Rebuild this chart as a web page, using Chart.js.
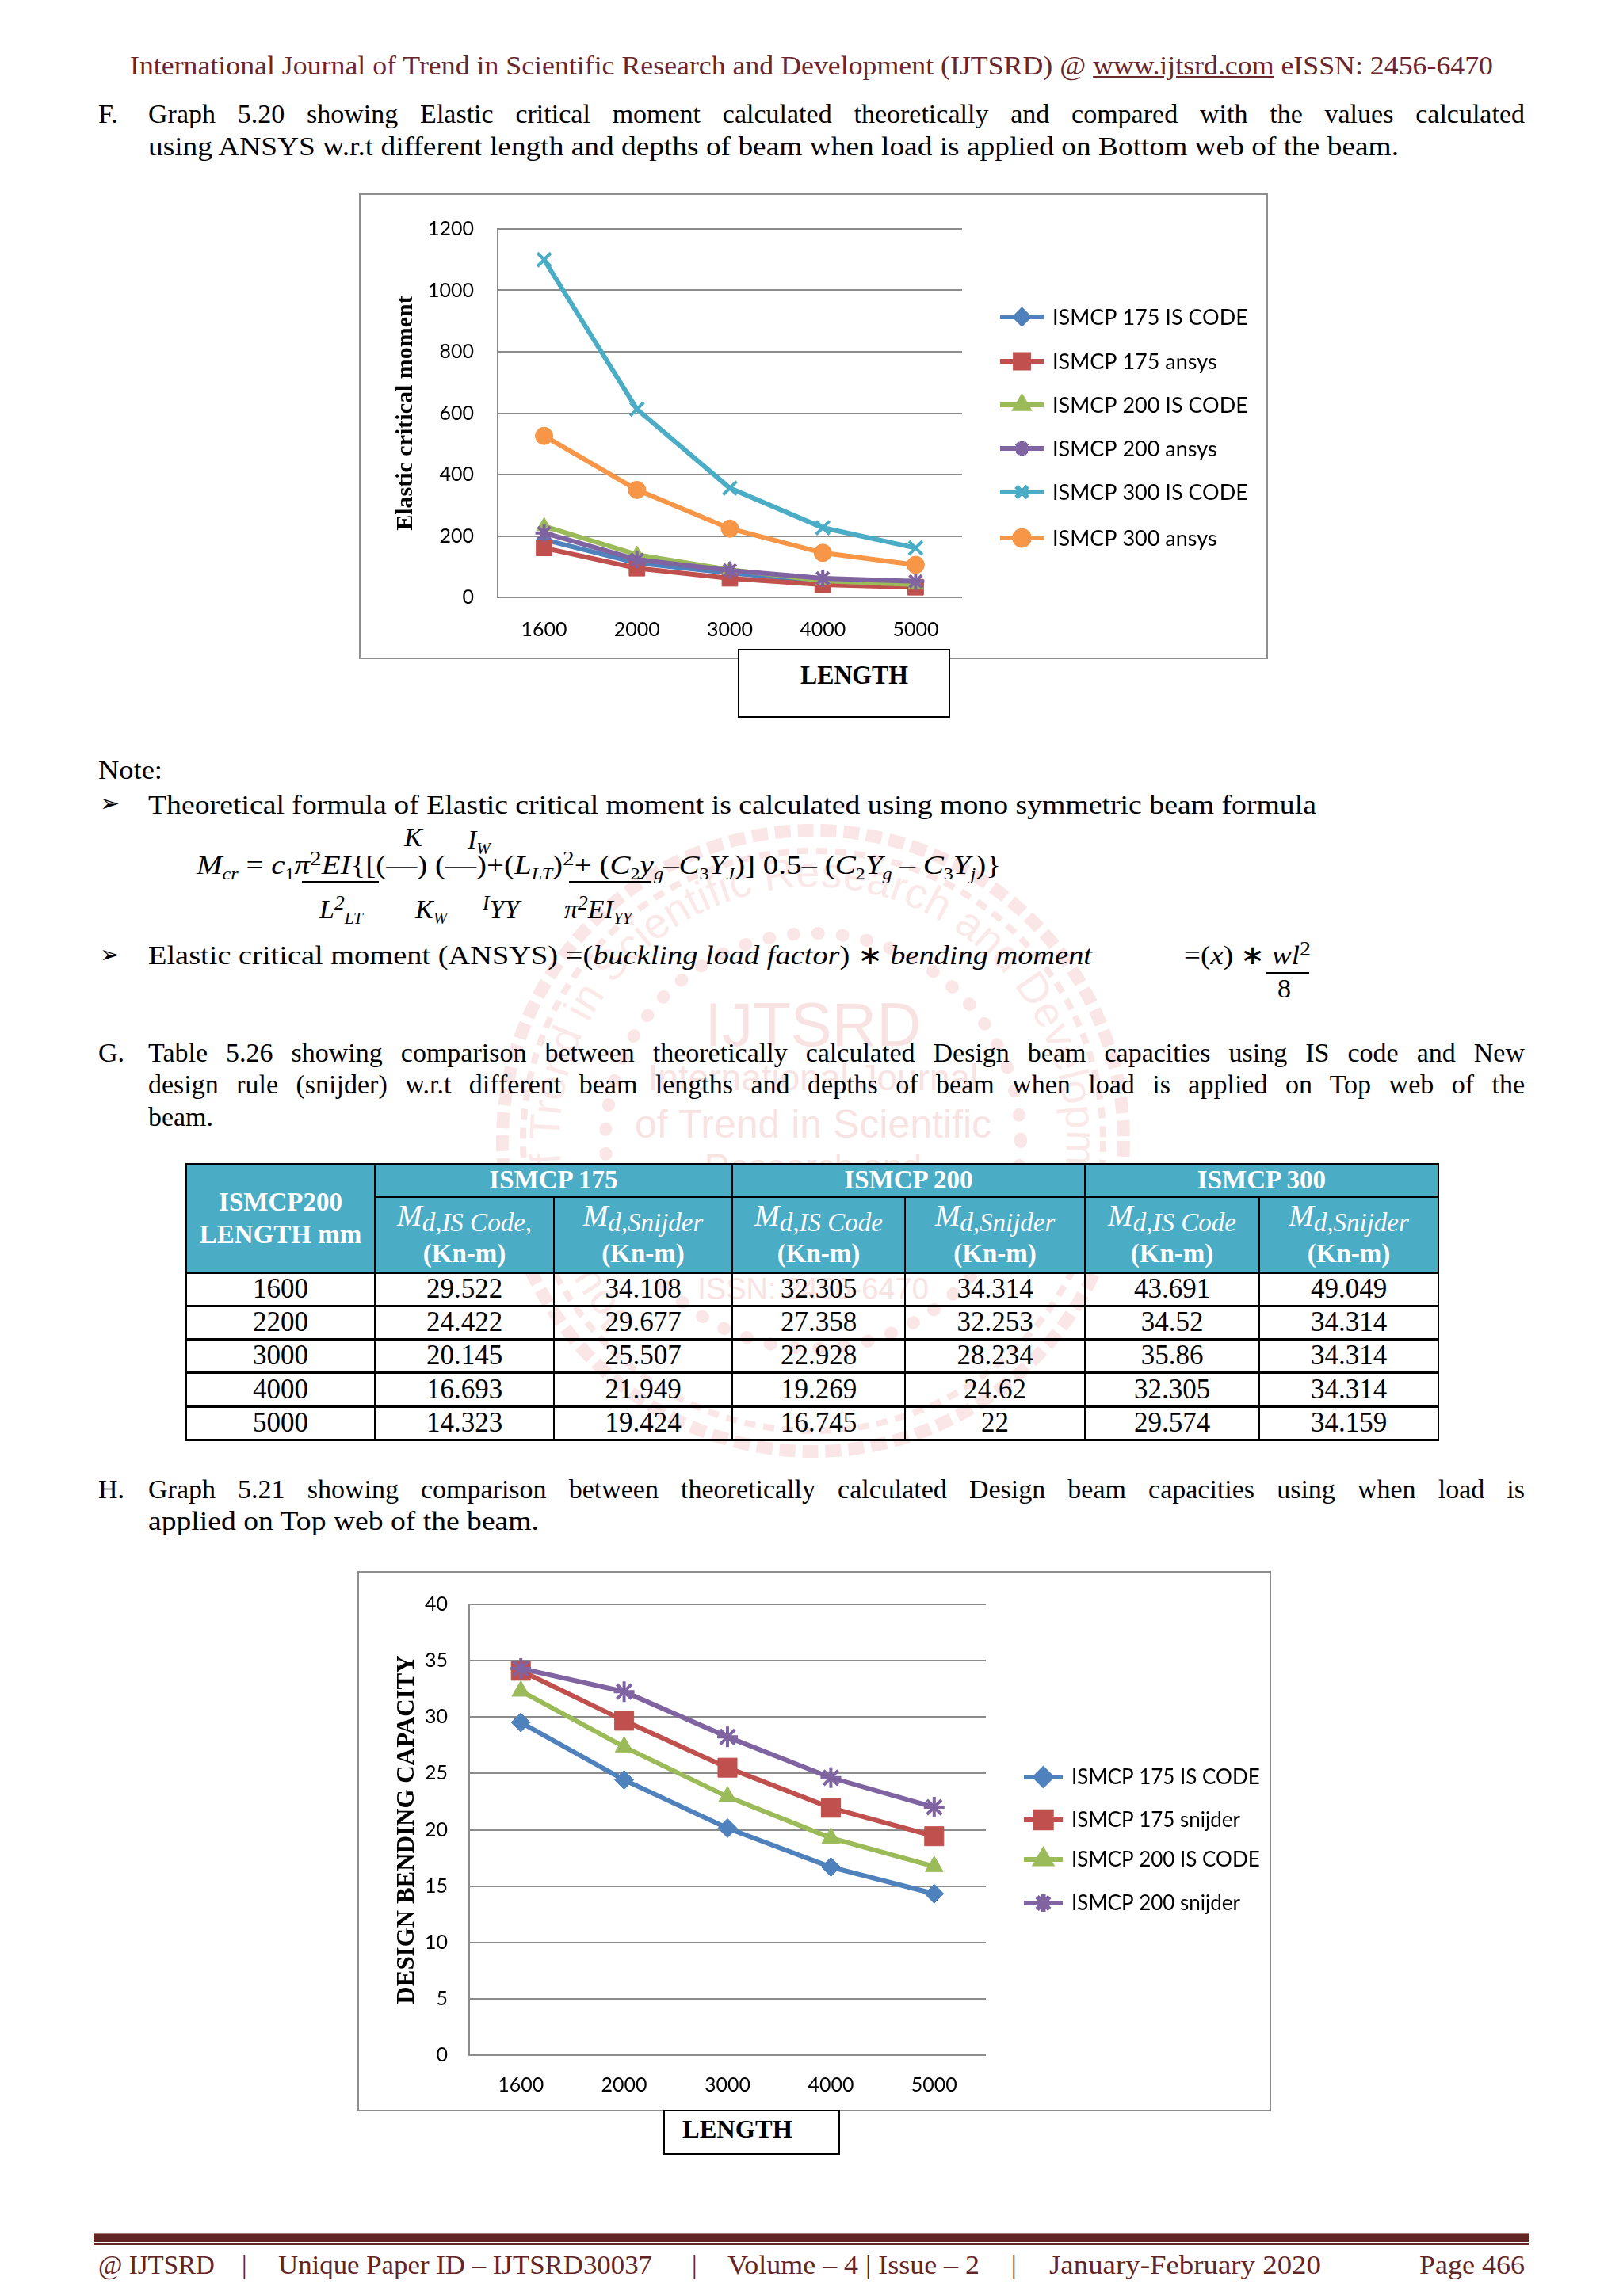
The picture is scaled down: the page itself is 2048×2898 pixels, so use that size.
<!DOCTYPE html>
<html><head><meta charset="utf-8">
<script src="https://cdn.jsdelivr.net/npm/chart.js@4.4.0/dist/chart.umd.min.js"></script>
<style>
html,body{margin:0;padding:0;background:#fff;}
#page{position:relative;width:2048px;height:2898px;overflow:hidden;font-family:"Liberation Serif",serif;color:#000;}
.t{position:absolute;white-space:nowrap;font-size:34px;line-height:40px;transform-origin:0 50%;z-index:2;}
.t sub{font-size:0.62em;vertical-align:-0.35em;line-height:0;}
.t sup{font-size:0.75em;vertical-align:0.45em;line-height:0;}
.hl{position:absolute;background:#000;z-index:2;}
.cell{position:absolute;display:flex;align-items:center;justify-content:center;text-align:center;z-index:3;white-space:nowrap;}
.bx{position:absolute;box-sizing:border-box;z-index:4;}
canvas{position:absolute;z-index:3;}
</style></head>
<body><div id="page">

<svg id="wm" width="2048" height="2898" style="position:absolute;left:0;top:0;z-index:0">
  <g fill="none" stroke="#fae6e6">
    <circle cx="1026" cy="1440" r="392" stroke-width="16" stroke-dasharray="20 9"/>
    <circle cx="1026" cy="1440" r="366" stroke-width="8" stroke-dasharray="14 10"/>
    <circle cx="1026" cy="1440" r="262" stroke-width="16" stroke-dasharray="1 30" stroke-linecap="round"/>
  </g>
  <path id="ring" fill="none" d="M 800 1666 A 320 320 0 1 1 1252 1666"/>
  <text font-family="Liberation Sans" font-size="54" fill="#fbe9e9"><textPath href="#ring">Journal of Trend in Scientific Research and Development</textPath></text>
  <g font-family="Liberation Sans" fill="#f9e2e2" text-anchor="middle">
    <text x="1026" y="1320" font-size="78">IJTSRD</text>
    <text x="1026" y="1376" font-size="46">International Journal</text>
    <text x="1026" y="1436" font-size="50">of Trend in Scientific</text>
    <text x="1026" y="1488" font-size="44">Research and</text>
    <text x="1026" y="1545" font-size="44">Development</text>
    <text x="1026" y="1640" font-size="38">ISSN: 2456-6470</text>
  </g>
</svg>

<!-- header -->
<div class="t" style="left:164px;top:63px;color:#6a262c;font-size:33px" data-w="1720">International Journal of Trend in Scientific Research and Development (IJTSRD) @ <span style="text-decoration:underline">www.ijtsrd.com</span> eISSN: 2456-6470</div>

<div class="t" style="left:124px;top:124px">F.</div>
<div class="t" style="left:187px;top:124px" data-w="1737" data-j="1">Graph 5.20 showing Elastic critical moment calculated theoretically and compared with the values calculated</div>
<div class="t" style="left:187px;top:165px" data-w="1578">using ANSYS w.r.t different length and depths of beam when load is applied on Bottom web of the beam.</div>

<!-- chart 1 -->
<canvas id="c1" width="1147" height="588" style="left:453px;top:244px"></canvas>
<div class="bx" style="left:453px;top:244px;width:1147px;height:588px;border:2px solid #8e8e8e"></div>
<div class="bx" style="left:931px;top:819px;width:268px;height:87px;border:2px solid #000;background:#fff"></div>
<div class="t" style="left:1010px;top:832px;font-weight:bold;font-size:33px;z-index:5" data-w="136">LENGTH</div>

<!-- note -->
<div class="t" style="left:124px;top:952px" data-w="81">Note:</div>
<div class="t" style="left:126px;top:994px;font-family:'DejaVu Sans';font-size:30px">&#10146;</div>
<div class="t" style="left:187px;top:996px" data-w="1474">Theoretical formula of Elastic critical moment is calculated using mono symmetric beam formula</div>

<div class="t" style="left:510px;top:1037px;font-style:italic">K</div>
<div class="t" style="left:590px;top:1040px;font-style:italic">I<sub>W</sub></div>
<div class="t" style="left:248px;top:1072px" data-w="1015"><i>M<sub>cr</sub></i> = <i>c</i><sub>1</sub><i>π</i><sup>2</sup><i>EI</i>{[(—) (—)+(<i>L<sub>LT</sub></i>)<sup>2</sup>+ (<i>C</i><sub>2</sub><i>y<sub>g</sub></i>–<i>C</i><sub>3</sub><i>Y<sub>J</sub></i>)] 0.5– (<i>C</i><sub>2</sub><i>Y<sub>g</sub></i> – <i>C</i><sub>3</sub><i>Y<sub>j</sub></i>)}</div>
<div class="hl" style="left:381px;top:1112px;width:97px;height:3px"></div>
<div class="hl" style="left:718px;top:1112px;width:103px;height:3px"></div>
<div class="t" style="left:403px;top:1128px;font-style:italic">L<sup>2</sup><sub>LT</sub></div>
<div class="t" style="left:524px;top:1128px;font-style:italic">K<sub>W</sub></div>
<div class="t" style="left:609px;top:1128px;font-style:italic"><sup>I</sup>YY</div>
<div class="t" style="left:712px;top:1128px;font-style:italic">π<sup>2</sup>EI<sub>YY</sub></div>

<div class="t" style="left:126px;top:1185px;font-family:'DejaVu Sans';font-size:30px">&#10146;</div>
<div class="t" style="left:187px;top:1186px" data-w="1191">Elastic critical moment (ANSYS) =(<i>buckling load factor</i>) ∗ <i>bending moment</i></div>
<div class="t" style="left:1494px;top:1186px" data-w="160">=(<i>x</i>) ∗ <i>wl</i><sup>2</sup></div>
<div class="hl" style="left:1597px;top:1227px;width:55px;height:3px"></div>
<div class="t" style="left:1612px;top:1228px">8</div>

<div class="t" style="left:124px;top:1309px">G.</div>
<div class="t" style="left:187px;top:1309px" data-w="1737" data-j="1">Table 5.26 showing comparison between theoretically calculated Design beam capacities using IS code and New</div>
<div class="t" style="left:187px;top:1349px" data-w="1737" data-j="1">design rule (snijder) w.r.t different beam lengths and depths of beam when load is applied on Top web of the</div>
<div class="t" style="left:187px;top:1390px" data-w="82">beam.</div>

<div id="tbl"></div>

<div class="t" style="left:124px;top:1860px">H.</div>
<div class="t" style="left:187px;top:1860px" data-w="1737" data-j="1">Graph 5.21 showing comparison between theoretically calculated Design beam capacities using when load is</div>
<div class="t" style="left:187px;top:1900px" data-w="493">applied on Top web of the beam.</div>

<!-- chart 2 -->
<canvas id="c2" width="1153" height="682" style="left:451px;top:1983px"></canvas>
<div class="bx" style="left:451px;top:1983px;width:1153px;height:682px;border:2px solid #8e8e8e"></div>
<div class="bx" style="left:837px;top:2663px;width:223px;height:57px;border:2px solid #000;background:#fff"></div>
<div class="t" style="left:861px;top:2667px;font-weight:bold;font-size:32px;z-index:5" data-w="139">LENGTH</div>

<!-- footer -->
<div class="hl" style="left:118px;top:2819px;width:1812px;height:1px;background:#b07a7a"></div>
<div class="hl" style="left:118px;top:2820px;width:1812px;height:10px;background:#632523"></div>
<div class="hl" style="left:118px;top:2831px;width:1812px;height:3px;background:#632523"></div>
<div class="t" style="left:124px;top:2839px;color:#632523;font-size:33px">@ IJTSRD</div>
<div class="t" style="left:305px;top:2839px;color:#632523;font-size:33px">|</div>
<div class="t" style="left:351px;top:2839px;color:#632523;font-size:33px" data-w="472">Unique Paper ID – IJTSRD30037</div>
<div class="t" style="left:873px;top:2839px;color:#632523;font-size:33px">|</div>
<div class="t" style="left:918px;top:2839px;color:#632523;font-size:33px" data-w="318">Volume – 4 | Issue – 2</div>
<div class="t" style="left:1276px;top:2839px;color:#632523;font-size:33px">|</div>
<div class="t" style="left:1324px;top:2839px;color:#632523;font-size:33px" data-w="343">January-February 2020</div>
<div class="t" style="left:1791px;top:2839px;color:#632523;font-size:33px" data-w="133">Page 466</div>

</div>
<script>
// ---------- data ----------
const chartLengths = ['1600', '2000', '3000', '4000', '5000'];
// Graph 5.20
const g20_175_is    = [188, 112, 79, 52, 41];
const g20_175_ansys = [161, 95, 62, 41, 33];
const g20_200_is    = [232, 139, 90, 54, 41];
const g20_200_ansys = [210, 123, 88, 62, 52];
const g20_300_is    = [1100, 613, 356, 227, 161];
const g20_300_ansys = [526, 350, 224, 145, 106];
// Table 5.26
const tableLengths = [1600, 2200, 3000, 4000, 5000];
const md175_is  = [29.522, 24.422, 20.145, 16.693, 14.323];
const md175_sn  = [34.108, 29.677, 25.507, 21.949, 19.424];
const md200_is  = [32.305, 27.358, 22.928, 19.269, 16.745];
const md200_sn  = [34.314, 32.253, 28.234, 24.62, 22];
const md300_is  = [43.691, 34.52, 35.86, 32.305, 29.574];
const md300_sn  = [49.049, 34.314, 34.314, 34.314, 34.159];
const sectionNames = ['ISMCP 175', 'ISMCP 200', 'ISMCP 300'];

// ---------- table ----------
(function(){
  const T = document.getElementById('tbl');
  const xs = [235, 473, 699, 924, 1142, 1369, 1589, 1815];
  const ys = [1469, 1510, 1606, 1648, 1690, 1732, 1775, 1817];
  function div(css, html, cls){ const d=document.createElement('div'); d.className=cls||''; d.style.cssText=css; if(html!==undefined) d.innerHTML='<div>'+html+'</div>'; T.appendChild(d); return d; }
  div(`position:absolute;left:${xs[0]}px;top:${ys[0]}px;width:${xs[7]-xs[0]}px;height:${ys[2]-ys[0]}px;background:#4bacc6;z-index:2`);
  const hf = 'color:#fff;font-weight:bold;font-size:33px;line-height:41px;';
  div(`left:${xs[0]}px;top:${ys[0]}px;width:${xs[1]-xs[0]}px;height:${ys[2]-ys[0]}px;${hf}`, 'ISMCP200<br>LENGTH mm', 'cell');
  sectionNames.forEach((n,i)=>{
    div(`left:${xs[1+2*i]}px;top:${ys[0]}px;width:${xs[3+2*i]-xs[1+2*i]}px;height:${ys[1]-ys[0]}px;${hf}`, n, 'cell');
    ['IS Code','Snijder'].forEach((k,j)=>{
      const c = 1+2*i+j;
      div(`left:${xs[c]}px;top:${ys[1]}px;width:${xs[c+1]-xs[c]}px;height:${ys[2]-ys[1]}px;color:#fff;font-size:33px;line-height:46px;`,
        `<span style="font-style:italic;font-size:38px">M<span style="font-size:33px;position:relative;top:7px">d,${k}${(i===0&&j===0)?',':''}</span></span><br><b>(Kn-m)</b>`, 'cell');
    });
  });
  const cols = [tableLengths, md175_is, md175_sn, md200_is, md200_sn, md300_is, md300_sn];
  for(let r=0;r<5;r++){
    cols.forEach((col,c)=>{
      div(`left:${xs[c]}px;top:${ys[r+2]}px;width:${xs[c+1]-xs[c]}px;height:${ys[r+3]-ys[r+2]}px;font-size:35px;`, String(col[r]), 'cell');
    });
  }
  // lines
  const L = (x,y,w,h)=>div(`position:absolute;left:${x}px;top:${y}px;width:${w}px;height:${h}px;background:#000;z-index:4`);
  L(xs[0]-1, ys[0]-1, xs[7]-xs[0]+2, 3);
  L(xs[1], ys[1]-1, xs[7]-xs[1]+1, 3);
  for(let r=2;r<ys.length;r++) L(xs[0]-1, ys[r]-1, xs[7]-xs[0]+2, 3);
  xs.forEach((x,i)=>{ const top = (i===2||i===4||i===6) ? ys[1] : ys[0]; L(x-1, top, 2, ys[7]-top+1); });
})();

// ---------- fit text widths ----------
document.querySelectorAll('[data-w]').forEach(el=>{
  const w = +el.dataset.w;
  const nat = el.getBoundingClientRect().width;
  if(el.dataset.j){
    const spaces = (el.textContent.match(/ /g)||[]).length;
    el.style.wordSpacing = ((w-nat)/spaces)+'px';
  } else {
    el.style.transform = 'scaleX('+(w/nat)+')';
  }
});

// ---------- charts ----------
const xlLegend = {
  id:'xlLegend',
  afterDraw(chart, args, o){
    const ctx = chart.ctx;
    chart.data.datasets.forEach((ds,i)=>{
      const y = o.rows[i];
      ctx.save();
      ctx.strokeStyle = ds.borderColor; ctx.lineWidth = ds.borderWidth;
      ctx.beginPath(); ctx.moveTo(o.x0,y); ctx.lineTo(o.x1,y); ctx.stroke();
      ctx.fillStyle = ds.pointBackgroundColor; ctx.strokeStyle = ds.pointBorderColor;
      Chart.helpers.drawPoint(ctx, {pointStyle:ds.pointStyle, radius:ds.pointRadius*0.85, borderWidth:ds.pointBorderWidth, rotation:0}, (o.x0+o.x1)/2, y);
      ctx.fillStyle = '#000'; ctx.font = o.font; ctx.textBaseline = 'middle'; ctx.textAlign='left';
      ctx.fillText(ds.label, o.tx, y+1);
      ctx.restore();
    });
  }
};
function ds(label, data, color, style, r, bw, n, i){
  return {label, data, borderColor:color, backgroundColor:color, pointBackgroundColor:color, pointBorderColor:color,
    pointStyle:style, pointRadius:r, pointHoverRadius:r, pointBorderWidth:bw, borderWidth:6, tension:0, clip:false, order:n-i};
}
const COL = {blue:'#4f81bd', red:'#c0504d', green:'#9bbb59', purple:'#8064a2', aqua:'#4bacc6', orange:'#f79646'};
function opts(cfg){
  return {
    responsive:false, animation:false, devicePixelRatio:1,
    layout:{padding:{left:0, top:cfg.top, right:cfg.right, bottom:0}},
    plugins:{legend:{display:false}, tooltip:{enabled:false}, xlLegend:cfg.legend},
    scales:{
      x:{offset:true, grid:{display:false, drawTicks:false}, border:{display:false},
         ticks:{color:'#000', padding:cfg.xpad, font:{family:'Lato', size:25}},
         afterFit:s=>{s.height = cfg.xh;}},
      y:{min:0, max:cfg.max, grid:{color:'#8c8c8c', lineWidth:2, drawTicks:false}, border:{display:true, color:'#8c8c8c', width:2},
         ticks:{stepSize:cfg.step, color:'#000', padding:cfg.ypad, font:{family:'Lato', size:25}, callback:v=>String(v)},
         title:{display:true, text:cfg.title, color:'#000', font:{family:'Liberation Serif', size:cfg.tsize, weight:'bold'}, padding:{top:cfg.tpad, bottom:0}},
         afterFit:s=>{s.width = cfg.yw;}}
    }
  };
}
new Chart(document.getElementById('c1'), {
  type:'line',
  data:{labels:chartLengths, datasets:[
    ds('ISMCP 175 IS CODE', g20_175_is, COL.blue, 'rectRot', 10, 1, 6, 0),
    ds('ISMCP 175 ansys', g20_175_ansys, COL.red, 'rect', 14, 1, 6, 1),
    ds('ISMCP 200 IS CODE', g20_200_is, COL.green, 'triangle', 11, 1, 6, 2),
    ds('ISMCP 200 ansys', g20_200_ansys, COL.purple, 'star', 11, 4, 6, 3),
    ds('ISMCP 300 IS CODE', g20_300_is, COL.aqua, 'crossRot', 12, 4, 6, 4),
    ds('ISMCP 300 ansys', g20_300_ansys, COL.orange, 'circle', 11, 1, 6, 5)
  ]},
  options:opts({top:37, right:386, xh:78, xpad:26, yw:175, ypad:30, max:1200, step:200,
    title:'Elastic critical moment', tsize:30, tpad:41,
    legend:{x0:809, x1:864, tx:875, rows:[156,212,267,322,377,435], font:'27px Lato'}}),
  plugins:[xlLegend]
});
new Chart(document.getElementById('c2'), {
  type:'line',
  data:{labels:chartLengths, datasets:[
    ds('ISMCP 175 IS CODE', md175_is, COL.blue, 'rectRot', 12, 1, 4, 0),
    ds('ISMCP 175 snijder', md175_sn, COL.red, 'rect', 17, 1, 4, 1),
    ds('ISMCP 200 IS CODE', md200_is, COL.green, 'triangle', 13, 1, 4, 2),
    ds('ISMCP 200 snijder', md200_sn, COL.purple, 'star', 13, 4, 4, 3)
  ]},
  options:opts({top:32, right:360, xh:71, xpad:23, yw:141, ypad:27, max:40, step:5,
    title:'DESIGN BENDING CAPACITY', tsize:31, tpad:44,
    legend:{x0:841, x1:890, tx:901, rows:[260,314,364,419], font:'26px Lato'}}),
  plugins:[xlLegend]
});
</script>
</body></html>
